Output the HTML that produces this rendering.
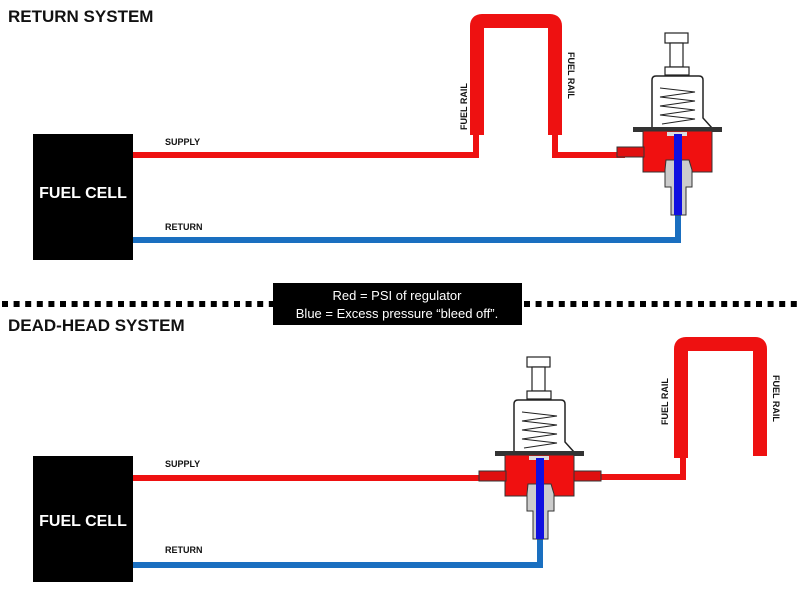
<!DOCTYPE html>
<html><head><meta charset="utf-8"><style>
html,body{margin:0;padding:0;background:#fff;}
svg{display:block;}
text{font-family:"Liberation Sans",sans-serif;}
</style></head><body>
<svg width="800" height="600" viewBox="0 0 800 600" xmlns="http://www.w3.org/2000/svg">
<defs>
<g id="reg">
  <!-- bolt -->
  <rect x="665" y="33" width="23" height="10" fill="#fff" stroke="#222" stroke-width="1.2"/>
  <rect x="670" y="43" width="13" height="24" fill="#fff" stroke="#222" stroke-width="1.2"/>
  <rect x="665" y="67" width="24" height="8" fill="#fff" stroke="#222" stroke-width="1.2"/>
  <!-- dome -->
  <path d="M652 128 L652 80 Q652 76 656 76 L699 76 Q703 76 703 80 L703 118 L712 128 Z" fill="#fff" stroke="#222" stroke-width="1.5"/>
  <polyline points="660,88 695,92 660,97 695,101 660,106 695,110 660,115 695,119 662,124" fill="none" stroke="#222" stroke-width="1"/>
  <rect x="633" y="127" width="89" height="5" fill="#333"/>
  <!-- red body -->
  <rect x="643" y="131" width="69" height="41" fill="#f01010" stroke="#333" stroke-width="1"/>
  <rect x="617" y="147" width="27" height="10" fill="#e01010" stroke="#333" stroke-width="1"/>
  <!-- neck -->
  <path d="M666 160 L689 160 L692 170 L692 187 L686 187 L686 215 L671 215 L671 187 L665 187 L665 170 Z" fill="#ccc" stroke="#333" stroke-width="1"/>
  <rect x="667" y="132" width="20" height="4" fill="#ddd"/>
  <rect x="674" y="134" width="8" height="81" fill="#1010e0"/>
</g>
</defs>

<text x="8" y="22" font-size="17" font-weight="bold" fill="#111">RETURN SYSTEM</text>
<text x="8" y="331" font-size="17" font-weight="bold" fill="#111">DEAD-HEAD SYSTEM</text>

<!-- TOP -->
<rect x="33" y="134" width="100" height="126" fill="#000"/>
<text x="83" y="198" font-size="16" font-weight="bold" fill="#fff" text-anchor="middle">FUEL CELL</text>
<text x="165" y="145" font-size="9" font-weight="bold" fill="#111">SUPPLY</text>
<text x="165" y="230" font-size="9" font-weight="bold" fill="#111">RETURN</text>
<polyline points="133,155 476,155 476,134" fill="none" stroke="#ee1111" stroke-width="6"/>
<polyline points="555,134 555,155 625,155" fill="none" stroke="#ee1111" stroke-width="6"/>
<path d="M477 135 L477 26 Q477 21 482 21 L550 21 Q555 21 555 26 L555 135" fill="none" stroke="#ee1111" stroke-width="14"/>
<text transform="translate(467,130) rotate(-90)" font-size="9" font-weight="bold" fill="#111">FUEL RAIL</text>
<text transform="translate(568,52) rotate(90)" font-size="9" font-weight="bold" fill="#111">FUEL RAIL</text>
<polyline points="133,240 678,240 678,214" fill="none" stroke="#1a6fc0" stroke-width="6"/>
<use href="#reg"/>

<!-- divider -->
<line x1="2" y1="304" x2="800" y2="304" stroke="#000" stroke-width="6" stroke-dasharray="6,5.6"/>
<rect x="273" y="283" width="249" height="42" fill="#000"/>
<text x="397" y="300" font-size="13" fill="#fff" text-anchor="middle">Red = PSI of regulator</text>
<text x="397" y="318" font-size="13" fill="#fff" text-anchor="middle">Blue = Excess pressure “bleed off”.</text>

<!-- BOTTOM -->
<rect x="33" y="456" width="100" height="126" fill="#000"/>
<text x="83" y="526" font-size="16" font-weight="bold" fill="#fff" text-anchor="middle">FUEL CELL</text>
<text x="165" y="467" font-size="9" font-weight="bold" fill="#111">SUPPLY</text>
<text x="165" y="553" font-size="9" font-weight="bold" fill="#111">RETURN</text>
<line x1="133" y1="478" x2="485" y2="478" stroke="#ee1111" stroke-width="6"/>
<polyline points="595,477 683,477 683,456" fill="none" stroke="#ee1111" stroke-width="6"/>
<path d="M681 458 L681 349 Q681 344 686 344 L755 344 Q760 344 760 349 L760 456" fill="none" stroke="#ee1111" stroke-width="14"/>
<text transform="translate(668,425) rotate(-90)" font-size="9" font-weight="bold" fill="#111">FUEL RAIL</text>
<text transform="translate(773,375) rotate(90)" font-size="9" font-weight="bold" fill="#111">FUEL RAIL</text>
<polyline points="133,565 540,565 540,538" fill="none" stroke="#1a6fc0" stroke-width="6"/>
<g transform="translate(-138,324)">
  <rect x="712" y="147" width="27" height="10" fill="#e01010" stroke="#333" stroke-width="1"/>
  <use href="#reg"/>
</g>
</svg>
</body></html>
